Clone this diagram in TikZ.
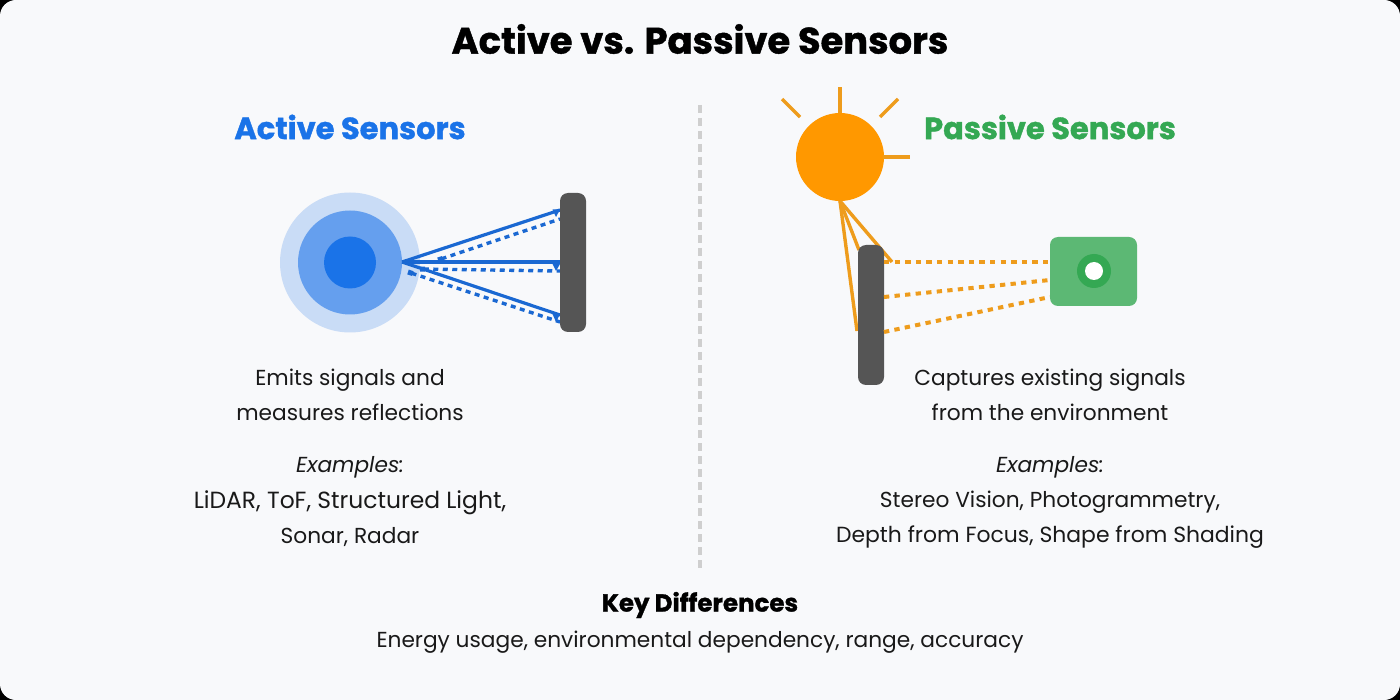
\documentclass[tikz,border=0pt]{standalone}
\usepackage{fontspec}
\setmainfont{Poppins}[BoldFeatures={FakeBold=1.2}]
\usetikzlibrary{arrows.meta}
\definecolor{bgc}{HTML}{F8F9FB}
\definecolor{blueA}{HTML}{1A73E8}
\definecolor{blueB}{HTML}{659FEE}
\definecolor{blueC}{HTML}{C9DCF6}
\definecolor{rayblue}{HTML}{1A68D2}
\definecolor{greenA}{HTML}{34A853}
\definecolor{greenB}{HTML}{5CB874}
\definecolor{sun}{HTML}{FF9800}
\definecolor{ray}{HTML}{EE9C1C}
\definecolor{barc}{HTML}{555555}
\definecolor{divc}{HTML}{CFCFCF}
\tikzset{
  x=1pt,y=-1pt,
  disc/.style={circle,inner sep=0pt,minimum size=#1,draw=none},
  wall/.style={rounded corners=8pt,fill=barc,draw=none},
  body/.style={font=\fontsize{21.7}{35}\selectfont,align=center,text=black!90,inner sep=0pt},
  head/.style={font=\fontsize{30.5}{36}\bfseries\selectfont,inner sep=0pt},
  sol/.style={rayblue,line width=3.2pt},
  ret/.style={rayblue,line width=3.4pt,dash pattern=on 5pt off 4.5pt,{Square[length=5pt,width=5pt]}-},
  tiphead/.style={fill=rayblue,draw=none},
  sunray/.style={ray,line width=3.4pt},
  shade/.style={ray,line width=4pt,dash pattern=on 5.3pt off 5.3pt},
}
\begin{document}
\begin{tikzpicture}
\fill[black] (0,0) rectangle (1400,700);
\fill[bgc,rounded corners=16pt] (0,0) rectangle (1400,700);
\useasboundingbox (0,0) rectangle (1400,700);

\node[font=\fontsize{36.8}{44}\bfseries\selectfont,inner sep=0pt] (title) at (700,39) {Active vs. Passive Sensors};

\coordinate (divT) at (700,105);
\coordinate (divB) at (700,570);
\draw[divc,line width=3.4pt,dash pattern=on 8pt off 5pt] (divT) -- (divB);

% Active
\node[head,text=blueA] (activeT) at (350,127) {Active Sensors};
\node[disc=140pt,fill=blueC] (halo) at (350,262.5) {};
\node[disc=104pt,fill=blueB] (mid) at (350,262.5) {};
\node[disc=52pt,fill=blueA] (core) at (350,262.5) {};
\coordinate (em) at (402,262);
\coordinate (w1) at (560,210);
\coordinate (w2) at (560,262);
\coordinate (w3) at (560,315);
\coordinate (r1) at (560,219);
\coordinate (r2) at (560,271);
\coordinate (r3) at (560,322);
\coordinate (s1) at (438,260);
\coordinate (s2) at (420,269);
\coordinate (s3) at (408,272);
\draw[sol] (em) -- (w1);
\draw[sol] (em) -- (w2);
\draw[sol] (em) -- (w3);
\draw[ret] (s1) -- (r1);
\draw[ret] (s2) -- (r2);
\draw[ret] (s3) -- (r3);
\fill[tiphead] (552.5,209.5) -- (560,209.5) -- (556,217) -- cycle;
\fill[tiphead] (552.5,264) -- (560,264) -- (556,271) -- cycle;
\fill[tiphead] (552.5,314) -- (560,314) -- (556,322) -- cycle;
\path[wall] (560,193) rectangle (586,332);

% Passive
\node[head,text=greenA] (passiveT) at (1050,127) {Passive Sensors};
\node[disc=88pt,fill=sun] (sunc) at (840,157) {};
\coordinate (ru1) at (840,113); \coordinate (ru2) at (840,87);
\coordinate (re1) at (883,157); \coordinate (re2) at (910,157);
\coordinate (rne1) at (880,117); \coordinate (rne2) at (898,99);
\coordinate (rnw1) at (800,117); \coordinate (rnw2) at (782,99);
\draw[sunray] (ru1) -- (ru2);
\draw[sunray] (re1) -- (re2);
\draw[sunray] (rne1) -- (rne2);
\draw[sunray] (rnw1) -- (rnw2);
\coordinate (sb) at (840,201);
\coordinate (h1) at (892,262);
\coordinate (h2) at (859,250);
\coordinate (h3) at (857,331);
\draw[sunray] (sb) -- (h1);
\draw[sunray] (sb) -- (h2);
\draw[sunray] (sb) -- (h3);
\path[wall] (858,245) rectangle (884,385);
\coordinate (b1) at (884,262); \coordinate (c1) at (1050,262);
\coordinate (b2) at (884,297); \coordinate (c2) at (1050,280);
\coordinate (b3) at (884,332); \coordinate (c3) at (1050,297);
\draw[shade] (b1) -- (c1);
\draw[shade] (b2) -- (c2);
\draw[shade] (b3) -- (c3);
\path[rounded corners=8pt,fill=greenB] (1050,237) rectangle (1137,306);
\node[disc=34pt,fill=greenA] (lens) at (1094,271) {};
\node[disc=18pt,fill=white] (pupil) at (1094,271) {};

% Text
\node[body] (t1) at (350,395) {Emits signals and\\measures reflections};
\node[body] (t2) at (350,467) {\itshape Examples:};
\node[body] (t3) at (350,519) {{\fontsize{23.4}{35}\selectfont LiDAR, ToF, Structured Light,}\\Sonar, Radar};
\node[body] (t4) at (1050,395) {Captures existing signals\\from the environment};
\node[body] (t5) at (1050,467) {\itshape Examples:};
\node[body] (t6) at (1050,520) {Stereo Vision, Photogrammetry,\\{\fontsize{21.9}{35}\selectfont Depth from Focus, Shape from Shading}};
\node[font=\fontsize{24.5}{28}\bfseries\selectfont,inner sep=0pt] (t7) at (700,605) {Key Differences};
\node[body] (t8) at (700,642) {Energy usage, environmental dependency, range, accuracy};
\end{tikzpicture}
\end{document}
